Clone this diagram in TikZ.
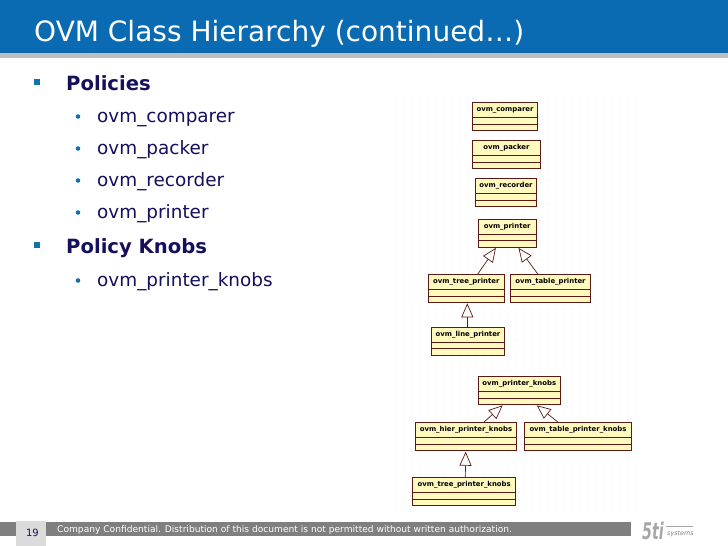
\documentclass[tikz,border=0pt]{standalone}
\usepackage{fontspec}
\setmainfont{DejaVu Sans}
\usetikzlibrary{positioning, arrows.meta}

\definecolor{bannerblue}{HTML}{0A6BB3}
\definecolor{slidenavy}{HTML}{14105E}
\definecolor{markblue}{HTML}{1570AE}
\definecolor{classfill}{HTML}{FFF9BE}
\definecolor{classedge}{HTML}{5C1A14}
\definecolor{footgray}{HTML}{7F7F7F}

\tikzset{
  headitem/.style={anchor=base west, inner sep=0pt, text=slidenavy, font=\fontsize{19.6}{22}\selectfont\bfseries},
  subitem/.style={anchor=base west, inner sep=0pt, text=slidenavy, font=\fontsize{18.4}{22}\selectfont},
  headmark/.style={fill=markblue, minimum size=6pt, inner sep=0pt},
  submark/.style={circle, fill=markblue, minimum size=4.6pt, inner sep=0pt},
  classbox/.style={draw=classedge, fill=classfill, line width=0.8pt, inner sep=0pt, outer sep=0pt,
    text=black, font=\fontsize{6.9}{8}\selectfont\bfseries, text height=8.8pt, text depth=18.8pt,
    path picture={
      \draw[classedge, line width=0.7pt] ([yshift=6.4pt]path picture bounding box.south west) -- ([yshift=6.4pt]path picture bounding box.south east);
      \draw[classedge, line width=0.7pt] ([yshift=12.8pt]path picture bounding box.south west) -- ([yshift=12.8pt]path picture bounding box.south east);
    }},
  genline/.style={draw=classedge, line width=0.7pt, -{Triangle[open, length=14pt, width=12pt]}}
}

\begin{document}
\begin{tikzpicture}[x=1pt, y=-1pt]
\useasboundingbox (0,0) rectangle (728,546);
\fill[white] (0,0) rectangle (728,546);

% banner
\fill[bannerblue] (0,0) rectangle (728,53);
\fill[gray!50] (0,53) rectangle (728,58);
\node (title) [anchor=base west, inner sep=0pt, text=white, font=\fontsize{28}{30}\selectfont] at (34,41.5) {OVM Class Hierarchy (continued…)};

% bullet list
\node (policies) [headitem] at (66,90) {Policies};
\node (policiesmark) [headmark] at (37,81.5) {};
\node (comparer) [subitem] at (97,122) {ovm\_comparer};
\node (comparermark) [submark] at (78,116.5) {};
\node (packer) [subitem] at (97,154) {ovm\_packer};
\node (packermark) [submark] at (78,148.5) {};
\node (recorder) [subitem] at (97,186) {ovm\_recorder};
\node (recordermark) [submark] at (78,180.5) {};
\node (printer) [subitem] at (97,218) {ovm\_printer};
\node (printermark) [submark] at (78,212.5) {};
\node (policyknobs) [headitem] at (66,253) {Policy Knobs};
\node (policyknobsmark) [headmark] at (37,244.5) {};
\node (printerknobs) [subitem] at (97,286) {ovm\_printer\_knobs};
\node (printerknobsmark) [submark] at (78,280.5) {};

% dotted canvas behind the classes
\foreach \gx in {396,404,...,636}
  \foreach \gy in {100,108,...,508}
    \fill[gray!18] (\gx,\gy) circle (0.55pt);

% class boxes
\node (cmp) [classbox, minimum width=65pt, anchor=north west] at (472.5,102.7) {ovm\_comparer};
\node (pck) [classbox, minimum width=68pt, below right=10.4pt and 0pt of cmp.south west] {ovm\_packer};
\node (rec) [classbox, minimum width=61pt, below right=10.4pt and 3pt of pck.south west] {ovm\_recorder};
\node (prn) [classbox, minimum width=57.4pt, below right=13pt and 3pt of rec.south west] {ovm\_printer};
\node (tree) [classbox, minimum width=76pt, anchor=north west] at (428.3,274.7) {ovm\_tree\_printer};
\node (table) [classbox, minimum width=79.6pt, right=6.4pt of tree] {ovm\_table\_printer};
\node (line) [classbox, minimum width=72.6pt, below right=25pt and 3.4pt of tree.south west] {ovm\_line\_printer};
\node (knobs) [classbox, minimum width=82pt, anchor=north west] at (478.3,376.7) {ovm\_printer\_knobs};
\node (hier) [classbox, minimum width=101.4pt, anchor=north west] at (415.3,422.7) {ovm\_hier\_printer\_knobs};
\node (tableknobs) [classbox, minimum width=106.6pt, right=8pt of hier] {ovm\_table\_printer\_knobs};
\node (treeknobs) [classbox, minimum width=103pt, below right=27.4pt and -2.6pt of hier.south west] {ovm\_tree\_printer\_knobs};

% generalizations
\draw[genline] ([xshift=11pt]tree.north) -- ([xshift=-11.3pt, yshift=-1pt]prn.south);
\draw[genline] ([xshift=-12.2pt]table.north) -- ([xshift=11.3pt, yshift=-1pt]prn.south);
\draw[genline] ([xshift=-0.7pt]line.north) -- ([xshift=1pt, yshift=-1pt]tree.south);
\draw[genline] ([xshift=17.3pt]hier.north) -- ([xshift=-16.6pt, yshift=-1pt]knobs.south);
\draw[genline] ([xshift=-19.3pt]tableknobs.north) -- ([xshift=17.4pt, yshift=-1pt]knobs.south);
\draw[genline] ([xshift=1.1pt]treeknobs.north) -- ([xshift=-0.3pt, yshift=-1.4pt]hier.south);

% footer
\fill[footgray] (0,521.7) rectangle (631,536.3);
\fill[gray!28] (16,521) rectangle (46,546);
\node (pageno) [text=slidenavy, inner sep=0pt, font=\fontsize{10}{11}\selectfont] at (32.5,533.3) {19};
\node (confidential) [anchor=base west, inner sep=0pt, text=white, font=\fontsize{9.1}{11}\selectfont] at (57,532.3) {Company Confidential. Distribution of this document is not permitted without written authorization.};

% logo
\node (logo) [anchor=base west, inner sep=0pt, text=gray!70, font=\fontsize{23}{24}\selectfont\bfseries\itshape] at (642,539) {\scalebox{0.62}[1]{5ti}};
\fill[gray!70] (666,525.5) rectangle (693,527);
\node (systems) [anchor=base west, inner sep=0pt, text=gray, font=\fontsize{6.4}{8}\selectfont\itshape] at (667,535) {systems};
\end{tikzpicture}
\end{document}
